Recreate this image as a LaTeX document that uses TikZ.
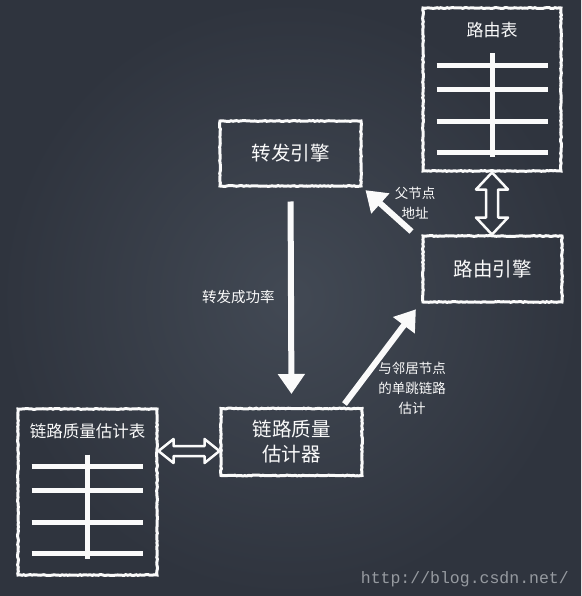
\documentclass[tikz,border=0pt]{standalone}
\usepackage{fontspec}
\newfontfamily\cjk{Noto Sans CJK SC}
\newfontfamily\wmfont{Liberation Mono}
\usetikzlibrary{positioning, calc, arrows.meta, decorations.pathmorphing}
\definecolor{board}{RGB}{66,73,84}
\definecolor{boardedge}{RGB}{47,52,62}
\definecolor{chalk}{RGB}{250,250,250}
\definecolor{wmgrey}{RGB}{150,154,160}

\newcommand{\tablelines}[1]{%
    \foreach \dy in {59,83,115,146}
        \draw[tabline] ($(#1.north west)+(15,\dy)$) -- ++(111,0);
    \draw[tabline] ($(#1.north)+(0,47)$) -- ++(0,104);
}
% hollow double arrow, left point to right point
\newcommand{\hollowh}[2]{%
    \draw[hollow] let \p1=(#1), \p2=(#2) in
        (\x1,\y1) -- (\x1+15pt,\y1+12pt) -- (\x1+15pt,\y1+5pt) -- (\x2-15pt,\y1+5pt)
        -- (\x2-15pt,\y1+12pt) -- (\x2,\y1) -- (\x2-15pt,\y1-12pt) -- (\x2-15pt,\y1-5pt)
        -- (\x1+15pt,\y1-5pt) -- (\x1+15pt,\y1-12pt) -- cycle;
}
% hollow double arrow, top point to bottom point
\newcommand{\hollowv}[2]{%
    \draw[hollow] let \p1=(#1), \p2=(#2) in
        (\x1,\y1) -- (\x1+16pt,\y1-17pt) -- (\x1+6pt,\y1-17pt) -- (\x1+6pt,\y2+17pt)
        -- (\x1+16pt,\y2+17pt) -- (\x1,\y2) -- (\x1-16pt,\y2+17pt) -- (\x1-6pt,\y2+17pt)
        -- (\x1-6pt,\y1-17pt) -- (\x1-16pt,\y1-17pt) -- cycle;
}

\begin{document}
\begin{tikzpicture}[x=1pt,y=-1pt]
    \tikzset{box/.style={rectangle, draw=chalk, line width=3pt, text=chalk, inner sep=0pt,
        font=\cjk\fontsize{19.5}{25}\selectfont, align=center,
        decorate, decoration={random steps, segment length=2pt, amplitude=0.4pt}}}
    \tikzset{title/.style={text=chalk, font=\cjk\fontsize{16.5}{20}\selectfont}}
    \tikzset{lbl/.style={text=chalk, font=\cjk\fontsize{13.5}{20}\selectfont, align=center}}
    \tikzset{tabline/.style={draw=chalk, line width=5pt}}
    \tikzset{chalkarrow/.style={draw=chalk, line width=6pt, -{Triangle[width=26pt,length=20pt]}}}
    \tikzset{hollow/.style={draw=chalk, line width=2.5pt, line join=round}}
    % chalkboard
    \useasboundingbox (0,0) rectangle (581,596);
    \shade[inner color=board, outer color=boardedge] (0,0) rectangle (581,596);

    % boxes
    \node[box, minimum width=138pt, minimum height=163pt] (rtable) at (492,89.5) {};
    \node[box, minimum width=141pt, minimum height=65pt] (fwd) at (290.5,153.5) {转发引擎};
    \node[box, minimum width=139pt, minimum height=66pt] (rengine) at (492.5,269) {路由引擎};
    \node[box, minimum width=141pt, minimum height=67pt] (lqe) at (291.5,442) {链路质量\\估计器};
    \node[box, minimum width=139pt, minimum height=166pt] (lqtable) at (87.5,492) {};

    % table contents
    \node[title, font=\cjk\fontsize{17}{20}\selectfont] (rtitle) at ($(rtable.north)+(0,24)$) {路由表};
    \node[title] (lqtitle) at ($(lqtable.north)+(0,24)$) {链路质量估计表};
    \tablelines{rtable}
    \tablelines{lqtable}

    % connectors
    \hollowv{rtable.south}{rengine.north}
    \hollowh{$(lqtable.east)+(0,-41)$}{$(lqe.west)+(0,9)$}
    \draw[chalkarrow, shorten <=14pt, shorten >=13pt] (fwd.south) -- (lqe.north)
        node[midway, lbl, left=10pt, font=\cjk\fontsize{14.5}{20}\selectfont] (rate) {转发成功率};
    \draw[chalkarrow, shorten >=4pt] ($(rengine.north west)+(-10,-3)$) -- (fwd.south east);
    \draw[chalkarrow, shorten >=1pt] ($(lqe.north east)+(-19,-3)$) -- ($(rengine.south west)+(-5,5)$);

    % labels
    \node[lbl] (parent) at (415,203) {父节点\\地址};
    \node[lbl] (single) at (412,388) {与邻居节点\\的单跳链路\\估计};

    % watermark
    \node[text=wmgrey, font=\wmfont\fontsize{16.5}{18}\selectfont, inner sep=0pt, anchor=base east] (wmark) at (569,583) {http://blog.csdn.net/};
\end{tikzpicture}
\end{document}
